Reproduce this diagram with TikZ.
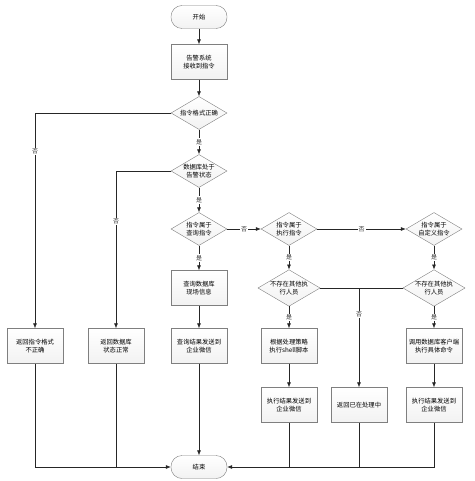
\documentclass[tikz,border=0pt]{standalone}
\usepackage{fontspec}
\usepackage{tikz}
\usetikzlibrary{shapes,arrows.meta,positioning,calc}
\newfontfamily\cjk{Noto Sans CJK SC}
\definecolor{boxgris}{HTML}{F2F2F2}
\definecolor{bordegris}{HTML}{7F7F7F}

\begin{document}
\begin{tikzpicture}[x=1pt,y=-1pt,
  proc/.style={draw=bordegris, rectangle, minimum width=56pt, minimum height=35pt,
               top color=white, bottom color=boxgris, font=\cjk\fontsize{6.3}{8.5}\selectfont, align=center, inner sep=1pt},
  term/.style={proc, rounded corners=11pt, minimum height=23pt},
  decision/.style={draw=bordegris, diamond, aspect=1.7, minimum width=56pt, minimum height=33pt,
                   top color=white, bottom color=boxgris, font=\cjk\fontsize{6.3}{8.5}\selectfont, align=center, inner sep=0pt},
  lbl/.style={fill=white, font=\cjk\fontsize{6}{7}\selectfont, inner sep=1pt, text=black!80},
  line/.style={-, line width=0.6pt, draw=black!85},
  arr/.style={line, -{Latex[length=5pt,width=4pt]}}
]
  \useasboundingbox (0,0) rectangle (474,481);

  \node[term]     (start)   at (199,17)  {开始};
  \node[proc]     (recv)    at (199,62)  {告警系统\\接收到指令};
  \node[decision] (fmt)     at (199,113) {指令格式正确};
  \node[decision] (state)   at (199,171) {数据库处于\\告警状态};
  \node[decision] (query)   at (199,229) {指令属于\\查询指令};
  \node[decision] (exec)    at (289,229) {指令属于\\执行指令};
  \node[decision] (custom)  at (434,229) {指令属于\\自定义指令};
  \node[proc]     (qinfo)   at (199,288) {查询数据库\\现场信息};
  \node[decision] (busya)   at (289,288) {不存在其他执\\行人员};
  \node[decision] (busyb)   at (434,288) {不存在其他执\\行人员};
  \node[proc]     (badfmt)  at (35,346)  {返回指令格式\\不正确};
  \node[proc]     (okstate) at (116,346) {返回数据库\\状态正常};
  \node[proc]     (qsend)   at (199,346) {查询结果发送到\\企业微信};
  \node[proc]     (shell)   at (289,346) {根据处理策略\\执行shell脚本};
  \node[proc]     (dbcmd)   at (434,346) {调用数据库客户端\\执行具体命令};
  \node[proc]     (senda)   at (289,405) {执行结果发送到\\企业微信};
  \node[proc]     (doing)   at (359,405) {返回已在处理中};
  \node[proc]     (sendb)   at (434,405) {执行结果发送到\\企业微信};
  \node[term]     (end)     at (199,467) {结束};
  \coordinate (jn) at (359,288);

  % main column
  \draw[arr] (start) -- (recv);
  \draw[arr] (recv) -- (fmt);
  \draw[arr] (fmt) -- node[lbl]{是} (state);
  \draw[arr] (state) -- node[lbl]{是} (query);
  \draw[arr] (query) -- node[lbl]{是} (qinfo);
  \draw[arr] (qinfo) -- (qsend);
  \draw[arr] (qsend) -- (end);
  % no branches
  \draw[arr] (fmt.west) -| node[lbl,pos=0.59]{否} (badfmt.north);
  \draw[arr] (state.west) -| node[lbl,pos=0.66]{否} (okstate.north);
  \draw[arr] (query) -- node[lbl]{否} (exec);
  \draw[arr] (exec) -- node[lbl]{否} (custom);
  % exec / custom
  \draw[arr] (exec) -- node[lbl]{是} (busya);
  \draw[arr] (custom) -- node[lbl]{是} (busyb);
  \draw[arr] (busya) -- node[lbl]{是} (shell);
  \draw[arr] (busyb) -- node[lbl]{是} (dbcmd);
  \draw[line] (busya) -- (busyb);
  \draw[arr] (jn) -- node[lbl,pos=0.27]{否} (doing);
  \draw[arr] (shell) -- (senda);
  \draw[arr] (dbcmd) -- (sendb);
  % to end
  \draw[arr] (badfmt.south) |- (end.west);
  \draw[line] (okstate.south) -- (okstate |- end);
  \draw[arr] (sendb.south) |- (end.east);
  \draw[line] (senda.south) -- (senda |- end);
  \draw[line] (doing.south) -- (doing |- end);

\end{tikzpicture}
\end{document}
